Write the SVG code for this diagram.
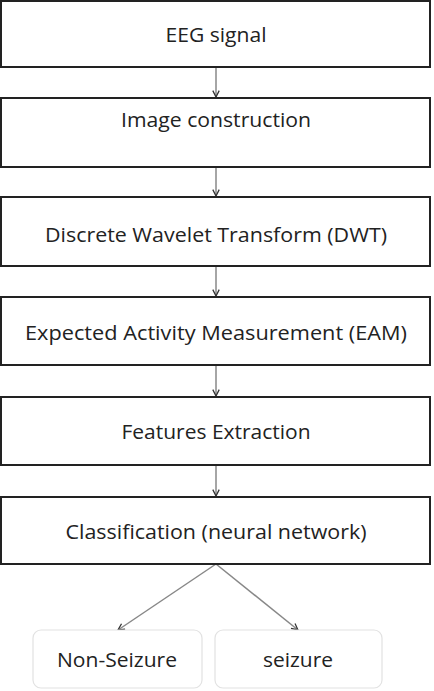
<svg xmlns="http://www.w3.org/2000/svg" width="434" height="691" viewBox="0 0 434 691">
<style>
.box{fill:#fff;stroke:#222;stroke-width:2}
.leaf{fill:#fff;stroke:#e2e2e2;stroke-width:1.2}
.t{font-family:"Open Sans","Liberation Sans",sans-serif;font-size:20px;fill:#222;text-anchor:middle}
.c{stroke:#888;stroke-width:1.5;fill:none}
</style>
<defs>
<marker id="ah" viewBox="0 0 10 10" refX="9" refY="5" markerWidth="8" markerHeight="8" markerUnits="userSpaceOnUse" orient="auto">
<path d="M1,1 L9,5 L1,9" fill="none" stroke="#333" stroke-width="1.6"/>
</marker>
</defs>
<rect width="434" height="691" fill="#fff"/>
<g id="connectors">
<line class="c" x1="216" y1="67" x2="216" y2="97" marker-end="url(#ah)"/>
<line class="c" x1="216" y1="167" x2="216" y2="196" marker-end="url(#ah)"/>
<line class="c" x1="216" y1="266" x2="216" y2="296" marker-end="url(#ah)"/>
<line class="c" x1="216" y1="365" x2="216" y2="396" marker-end="url(#ah)"/>
<line class="c" x1="216" y1="465" x2="216" y2="496" marker-end="url(#ah)"/>
<line class="c" x1="216" y1="564" x2="118" y2="630" stroke="#555" marker-end="url(#ah)"/>
<line class="c" x1="216" y1="564" x2="298" y2="630" stroke="#555" marker-end="url(#ah)"/>
</g>
<g id="n1"><rect class="box" x="1" y="1" width="429" height="66"/><text class="t" x="216" y="42" textLength="101" lengthAdjust="spacingAndGlyphs">EEG signal</text></g>
<g id="n2"><rect class="box" x="1" y="98" width="429" height="69"/><text class="t" x="216" y="127" textLength="190" lengthAdjust="spacingAndGlyphs">Image construction</text></g>
<g id="n3"><rect class="box" x="1" y="197" width="429" height="69"/><text class="t" x="216" y="242" textLength="342" lengthAdjust="spacingAndGlyphs">Discrete Wavelet Transform (DWT)</text></g>
<g id="n4"><rect class="box" x="1" y="297" width="429" height="68"/><text class="t" x="216" y="340" textLength="382" lengthAdjust="spacingAndGlyphs">Expected Activity Measurement (EAM)</text></g>
<g id="n5"><rect class="box" x="1" y="397" width="429" height="68"/><text class="t" x="216" y="439" textLength="189" lengthAdjust="spacingAndGlyphs">Features Extraction</text></g>
<g id="n6"><rect class="box" x="1" y="497" width="429" height="67"/><text class="t" x="216" y="539" textLength="301" lengthAdjust="spacingAndGlyphs">Classification (neural network)</text></g>
<g id="n7"><rect class="leaf" x="33" y="630" width="169" height="58" rx="8"/><text class="t" x="117" y="667" textLength="120" lengthAdjust="spacingAndGlyphs">Non-Seizure</text></g>
<g id="n8"><rect class="leaf" x="215" y="630" width="167" height="58" rx="8"/><text class="t" x="298" y="667" textLength="70" lengthAdjust="spacingAndGlyphs">seizure</text></g>
</svg>
